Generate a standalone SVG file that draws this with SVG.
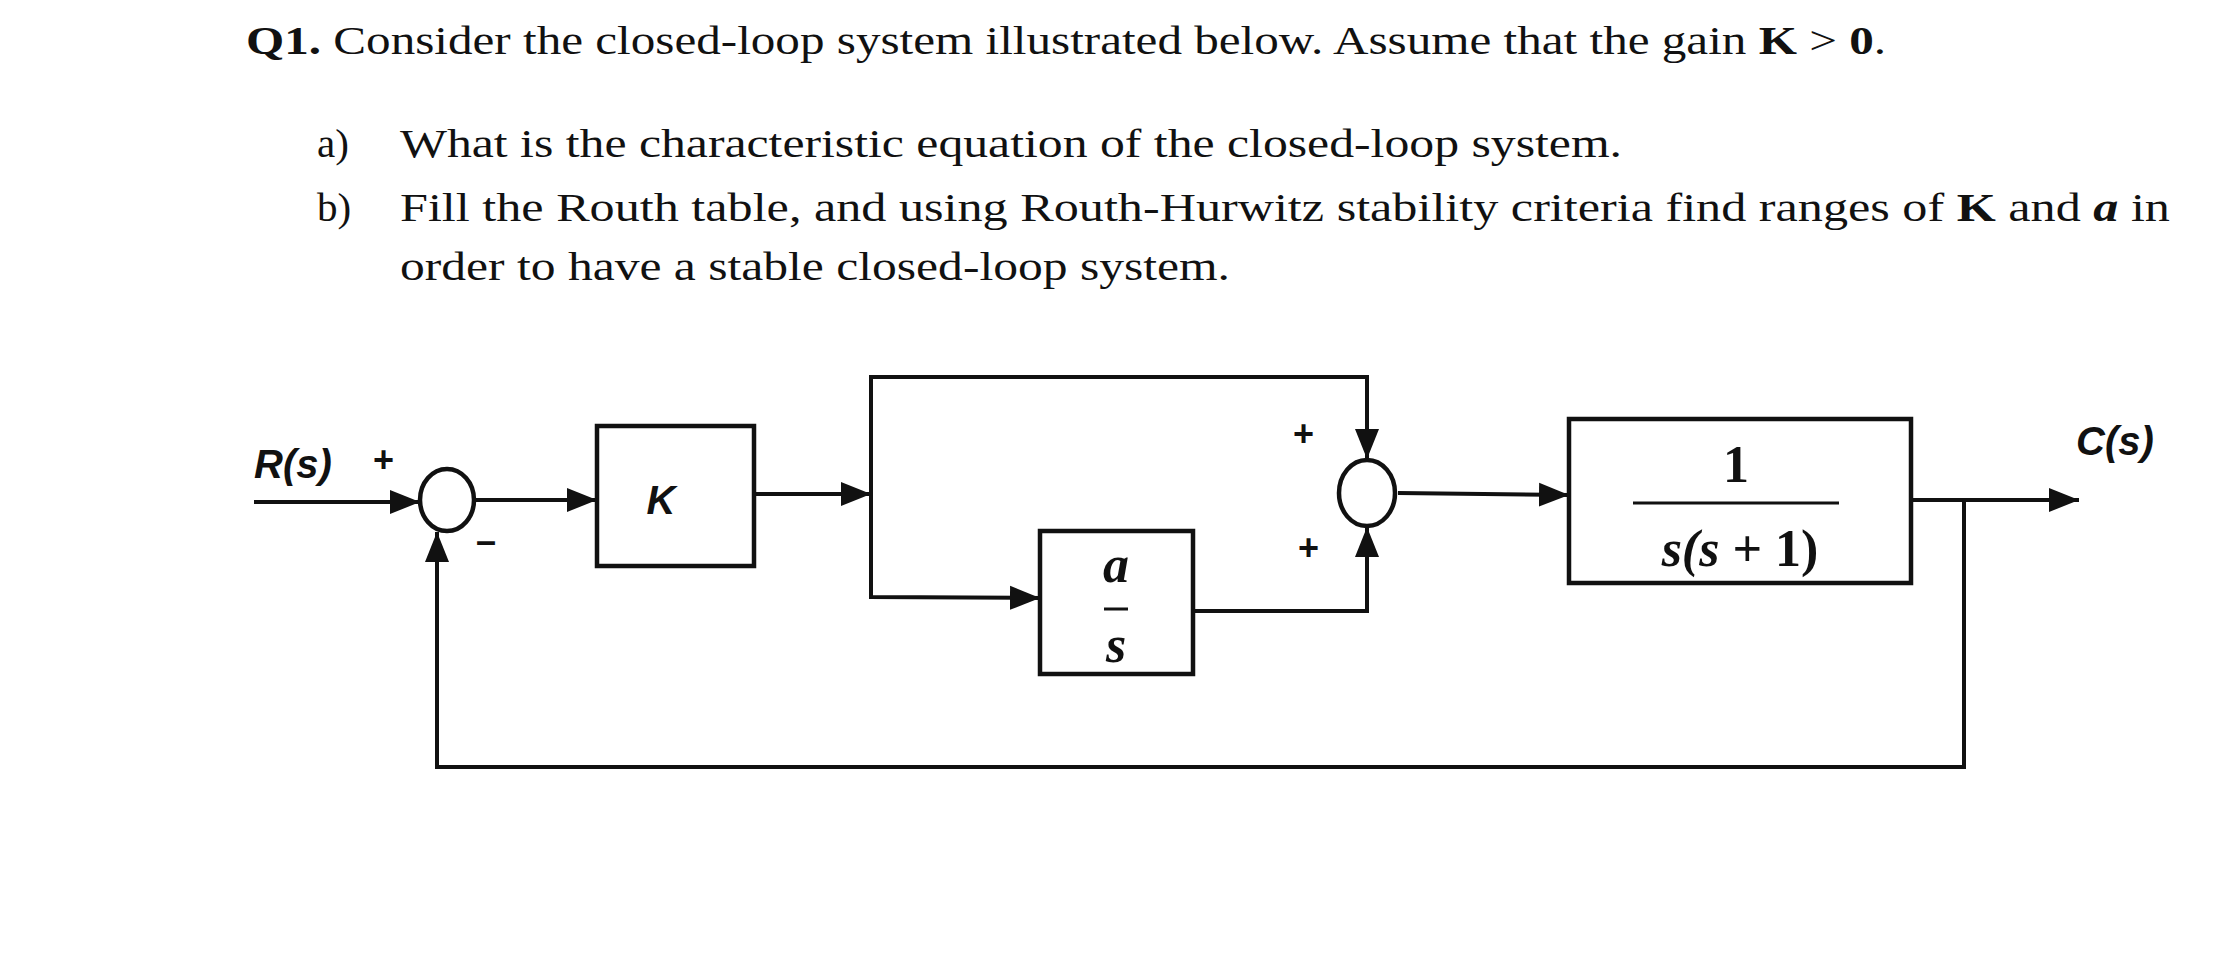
<svg xmlns="http://www.w3.org/2000/svg" width="2240" height="955" viewBox="0 0 2240 955">
<style>
.t{font-family:"Liberation Serif",serif;font-size:41px;fill:#111}
.lb{font-family:"Liberation Sans",sans-serif;font-style:italic;font-weight:bold;font-size:40px;fill:#111}
.m{font-family:"Liberation Serif",serif;font-style:italic;font-size:52px;fill:#111}
.up{font-style:normal}
.bx{fill:#fff;stroke:#111;stroke-width:4.5}
.w{fill:none;stroke:#111;stroke-width:4}
.sg{font-family:"Liberation Sans",sans-serif;font-weight:bold;font-size:36px;fill:#111}
</style>
<defs>
<marker id="a2" viewBox="0 0 10 10" refX="10" refY="5" markerWidth="30" markerHeight="30" orient="auto" markerUnits="userSpaceOnUse"><path d="M0,1 L10,5 L0,9 z" fill="#111"/></marker></defs>
<rect width="2240" height="955" fill="#fff"/>
<g id="text">
<text class="t" x="246" y="54" textLength="1640" lengthAdjust="spacingAndGlyphs"><tspan font-weight="bold">Q1.</tspan> Consider the closed-loop system illustrated below. Assume that the gain <tspan font-weight="bold">K</tspan> &gt; <tspan font-weight="bold">0</tspan>.</text>
<text class="t" x="317" y="157">a)</text>
<text class="t" x="400" y="157" textLength="1222" lengthAdjust="spacingAndGlyphs">What is the characteristic equation of the closed-loop system.</text>
<text class="t" x="317" y="221">b)</text>
<text class="t" x="400" y="221" textLength="1770" lengthAdjust="spacingAndGlyphs">Fill the Routh table, and using Routh-Hurwitz stability criteria find ranges of <tspan font-weight="bold">K</tspan> and <tspan font-weight="bold" font-style="italic">a</tspan> in</text>
<text class="t" x="400" y="280" textLength="830" lengthAdjust="spacingAndGlyphs">order to have a stable closed-loop system.</text>
</g>
<g id="connectors">
<line class="w" x1="254" y1="502" x2="420" y2="502" marker-end="url(#a2)"/>
<line class="w" x1="474" y1="500" x2="597" y2="500" marker-end="url(#a2)"/>
<line class="w" x1="754" y1="494" x2="871" y2="494" marker-end="url(#a2)"/>
<polyline class="w" points="871,494 871,377 1367,377 1367,459" marker-end="url(#a2)"/>
<polyline class="w" points="871,494 871,597 1040,598" marker-end="url(#a2)"/>
<polyline class="w" points="1193,611 1367,611 1367,527" marker-end="url(#a2)"/>
<line class="w" x1="1398" y1="493" x2="1569" y2="495" marker-end="url(#a2)"/>
<line class="w" x1="1911" y1="500" x2="2079" y2="500" marker-end="url(#a2)"/>
<polyline class="w" points="1964,500 1964,767 437,767 437,532" marker-end="url(#a2)"/>
</g>
<g id="sum1"><ellipse class="bx" cx="447" cy="500" rx="27" ry="31"/></g>
<g id="sum2"><ellipse class="bx" cx="1367" cy="493" rx="28" ry="33"/></g>
<g id="K"><rect class="bx" x="597" y="426" width="157" height="140"/><text class="lb" x="661" y="514" text-anchor="middle">K</text></g>
<g id="as"><rect class="bx" x="1040" y="531" width="153" height="143"/><text class="m" x="1116" y="582" text-anchor="middle" font-weight="bold">a</text><line x1="1104" y1="609" x2="1128" y2="609" stroke="#111" stroke-width="3"/><text class="m" x="1116" y="662" text-anchor="middle" font-weight="bold">s</text></g>
<g id="plant"><rect class="bx" x="1569" y="419" width="342" height="164"/><text class="m up" x="1736" y="482" text-anchor="middle" font-weight="bold">1</text><line x1="1633" y1="503" x2="1839" y2="503" stroke="#111" stroke-width="3"/><text class="m" x="1740" y="566" text-anchor="middle" font-weight="bold">s(s <tspan class="up">+ 1)</tspan></text></g>
<g id="labels">
<text class="lb" x="254" y="478">R(s)</text>
<text class="sg" x="373" y="472">+</text>
<text class="sg" x="476" y="553">–</text>
<text class="sg" x="1293" y="446">+</text>
<text class="sg" x="1298" y="560">+</text>
<text class="lb" x="2076" y="455">C(s)</text>
</g>
</svg>
